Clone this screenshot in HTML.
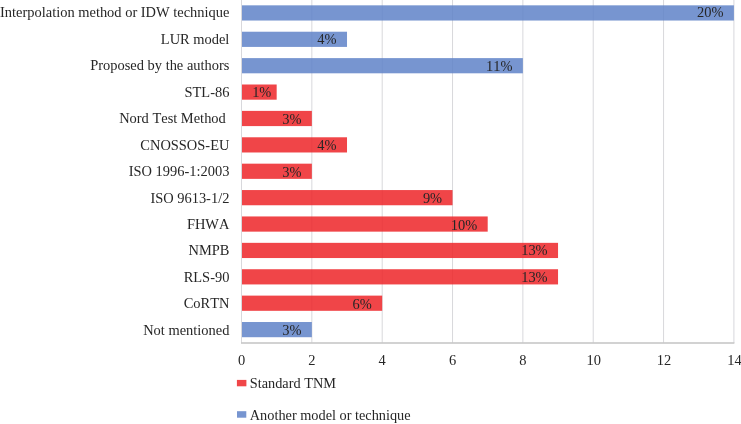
<!DOCTYPE html>
<html><head><meta charset="utf-8"><style>
html,body{margin:0;padding:0;background:#fff;width:741px;height:424px;overflow:hidden}
</style></head><body>
<svg width="741" height="424" viewBox="0 0 741 424" style="display:block">
<rect x="311.34" y="0" width="1" height="343" fill="#D8D8DC"/>
<rect x="381.69" y="0" width="1" height="343" fill="#D8D8DC"/>
<rect x="452.03" y="0" width="1" height="343" fill="#D8D8DC"/>
<rect x="522.37" y="0" width="1" height="343" fill="#D8D8DC"/>
<rect x="592.71" y="0" width="1" height="343" fill="#D8D8DC"/>
<rect x="663.06" y="0" width="1" height="343" fill="#D8D8DC"/>
<rect x="733.40" y="0" width="1" height="343" fill="#D8D8DC"/>
<rect x="241.00" y="0" width="1" height="343" fill="#D8D8DC"/>
<rect x="242.00" y="5.33" width="491.90" height="15.2" fill="#5F82C8" fill-opacity="0.85"/>
<rect x="242.00" y="31.72" width="105.01" height="15.2" fill="#5F82C8" fill-opacity="0.85"/>
<rect x="242.00" y="58.11" width="280.87" height="15.2" fill="#5F82C8" fill-opacity="0.85"/>
<rect x="242.00" y="84.50" width="34.67" height="15.2" fill="#ED2528" fill-opacity="0.85"/>
<rect x="242.00" y="110.89" width="69.84" height="15.2" fill="#ED2528" fill-opacity="0.85"/>
<rect x="242.00" y="137.28" width="105.01" height="15.2" fill="#ED2528" fill-opacity="0.85"/>
<rect x="242.00" y="163.67" width="69.84" height="15.2" fill="#ED2528" fill-opacity="0.85"/>
<rect x="242.00" y="190.06" width="210.53" height="15.2" fill="#ED2528" fill-opacity="0.85"/>
<rect x="242.00" y="216.45" width="245.70" height="15.2" fill="#ED2528" fill-opacity="0.85"/>
<rect x="242.00" y="242.84" width="316.04" height="15.2" fill="#ED2528" fill-opacity="0.85"/>
<rect x="242.00" y="269.23" width="316.04" height="15.2" fill="#ED2528" fill-opacity="0.85"/>
<rect x="242.00" y="295.62" width="140.19" height="15.2" fill="#ED2528" fill-opacity="0.85"/>
<rect x="242.00" y="322.01" width="69.84" height="15.2" fill="#5F82C8" fill-opacity="0.85"/>
<rect x="241.00" y="342.2" width="493.40" height="1.6" fill="#C8C8C8"/>
<g font-family="Liberation Serif, Times New Roman, serif" font-size="14.45" fill="#262626" style="font-kerning:none">
<text x="229.40" y="17.33" text-anchor="end">Interpolation method or IDW technique</text>
<text x="723.50" y="17.43" text-anchor="end">20%</text>
<text x="229.40" y="43.79" text-anchor="end">LUR model</text>
<text x="336.61" y="44.32" text-anchor="end">4%</text>
<text x="229.40" y="70.24" text-anchor="end">Proposed by the authors</text>
<text x="512.47" y="71.31" text-anchor="end">11%</text>
<text x="229.40" y="96.69" text-anchor="end">STL-86</text>
<text x="271.40" y="97.10" text-anchor="end">1%</text>
<text x="225.80" y="123.15" text-anchor="end">Nord Test Method</text>
<text x="301.44" y="124.09" text-anchor="end">3%</text>
<text x="229.40" y="149.60" text-anchor="end">CNOSSOS-EU</text>
<text x="336.61" y="150.48" text-anchor="end">4%</text>
<text x="229.40" y="176.06" text-anchor="end">ISO 1996-1:2003</text>
<text x="301.44" y="176.87" text-anchor="end">3%</text>
<text x="229.40" y="202.52" text-anchor="end">ISO 9613-1/2</text>
<text x="442.13" y="203.26" text-anchor="end">9%</text>
<text x="229.40" y="228.97" text-anchor="end">FHWA</text>
<text x="477.30" y="229.65" text-anchor="end">10%</text>
<text x="229.40" y="255.43" text-anchor="end">NMPB</text>
<text x="547.64" y="255.44" text-anchor="end">13%</text>
<text x="229.40" y="281.88" text-anchor="end">RLS-90</text>
<text x="547.64" y="281.83" text-anchor="end">13%</text>
<text x="229.40" y="308.34" text-anchor="end">CoRTN</text>
<text x="371.79" y="308.82" text-anchor="end">6%</text>
<text x="229.40" y="334.79" text-anchor="end">Not mentioned</text>
<text x="301.44" y="335.21" text-anchor="end">3%</text>
<text x="241.50" y="364.6" text-anchor="middle">0</text>
<text x="311.84" y="364.6" text-anchor="middle">2</text>
<text x="382.19" y="364.6" text-anchor="middle">4</text>
<text x="452.53" y="364.6" text-anchor="middle">6</text>
<text x="522.87" y="364.6" text-anchor="middle">8</text>
<text x="593.71" y="364.6" text-anchor="middle">10</text>
<text x="664.06" y="364.6" text-anchor="middle">12</text>
<text x="734.40" y="364.6" text-anchor="middle">14</text>
<text x="249.8" y="387.5" font-size="14.3">Standard TNM</text>
<text x="249.8" y="419.5" font-size="14.3">Another model or technique</text>
</g>
<rect x="236.9" y="379.9" width="9.5" height="6.4" fill="#F04648"/>
<rect x="237" y="411.2" width="9.3" height="6.5" fill="#7795D0"/>
</svg>
</body></html>
